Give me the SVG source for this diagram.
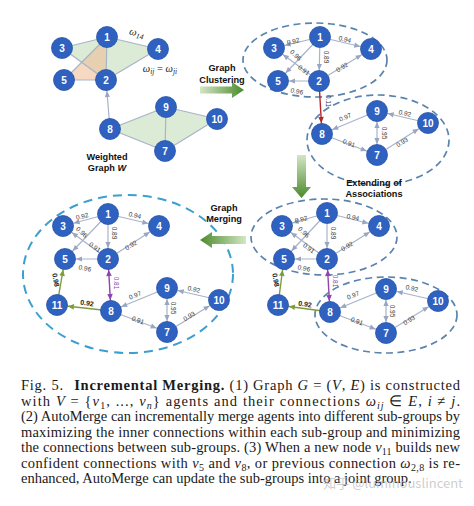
<svg xmlns="http://www.w3.org/2000/svg" width="474" height="506" viewBox="0 0 474 506">
<style>
.e{stroke:#a7b3cb;stroke-width:1.2;fill:none}
.er{stroke:#b3262a;stroke-width:1.4;fill:none}
.ep{stroke:#8e44ad;stroke-width:1.4;fill:none}
.eg{stroke:#7d9c3c;stroke-width:1.4;fill:none}
.n circle{fill:#2f61c0;stroke:#2854a8;stroke-width:0.8}
.n text{font-family:"Liberation Sans",Arial,sans-serif;font-weight:bold;font-size:10px;fill:#fff;text-anchor:middle;dominant-baseline:central}
.w{font-family:"Liberation Sans",Arial,sans-serif;font-size:6.5px;fill:#3a3a3a;text-anchor:middle;dominant-baseline:central}
.wb{font-family:"Liberation Sans",Arial,sans-serif;font-size:7px;font-weight:bold;fill:#222;text-anchor:middle;dominant-baseline:central}
.wp{font-family:"Liberation Sans",Arial,sans-serif;font-size:6.5px;fill:#8e44ad;text-anchor:middle;dominant-baseline:central}
.lbl{font-family:"Liberation Sans",Arial,sans-serif;font-size:9.2px;font-weight:bold;fill:#111;text-anchor:middle}
.el{fill:none;stroke:#5a84ae;stroke-width:1.7;stroke-dasharray:7 4.5}
.cap{font-family:"Liberation Serif","Times New Roman",serif;font-size:14.5px;fill:#1a1a1a}
.om{font-family:"Liberation Serif","Times New Roman",serif;font-style:italic;font-size:10.5px;fill:#222}
</style>
<defs>
<marker id="ag" viewBox="-20 -5 25 10" refX="0" refY="0" markerWidth="25" markerHeight="10" markerUnits="userSpaceOnUse" orient="auto-start-reverse"><path d="M-17,-2.6 L-11,0 L-17,2.6 z" fill="#98a6c2"/></marker>
<marker id="ar" viewBox="-20 -5 25 10" refX="0" refY="0" markerWidth="25" markerHeight="10" markerUnits="userSpaceOnUse" orient="auto-start-reverse"><path d="M-17,-2.8 L-11,0 L-17,2.8 z" fill="#b3262a"/></marker>
<marker id="ap" viewBox="-20 -5 25 10" refX="0" refY="0" markerWidth="25" markerHeight="10" markerUnits="userSpaceOnUse" orient="auto-start-reverse"><path d="M-17,-2.8 L-11,0 L-17,2.8 z" fill="#8e44ad"/></marker>
<marker id="agr" viewBox="-20 -5 25 10" refX="0" refY="0" markerWidth="25" markerHeight="10" markerUnits="userSpaceOnUse" orient="auto-start-reverse"><path d="M-17,-2.8 L-11,0 L-17,2.8 z" fill="#7d9c3c"/></marker>
<linearGradient id="gR" x1="0" y1="0" x2="1" y2="0"><stop offset="0" stop-color="#d3e6c4"/><stop offset="1" stop-color="#4b8a2c"/></linearGradient>
<linearGradient id="gL" x1="0" y1="0" x2="1" y2="0"><stop offset="0" stop-color="#4b8a2c"/><stop offset="1" stop-color="#d3e6c4"/></linearGradient>
<linearGradient id="gD" x1="0" y1="0" x2="0" y2="1"><stop offset="0" stop-color="#d3e6c4"/><stop offset="1" stop-color="#4b8a2c"/></linearGradient>
</defs>
<rect width="474" height="506" fill="#fff"/>

<!-- Panel 1 shading -->
<g id="p1-shading">
<polygon points="62,48 107,37 158,49 106,80" fill="#dcebd5"/>
<polygon points="110,129 166,107 217,119 165,151" fill="#dcebd5"/>
<polygon points="107,37 106,80 64,80" fill="#f0b98f" fill-opacity="0.55"/>
</g>

<!-- Dashed group ellipses -->
<g id="groups">
<ellipse cx="315" cy="60" rx="72" ry="37" class="el"/>
<ellipse cx="378" cy="140" rx="71" ry="45" class="el"/>
<ellipse cx="324" cy="237" rx="73" ry="38" class="el"/>
<ellipse cx="386" cy="315" rx="71" ry="38" class="el"/>
<ellipse cx="128" cy="274" rx="105" ry="79" fill="none" stroke="#3b9fcf" stroke-width="2" stroke-dasharray="9 6"/>
</g>

<!-- Connectors -->
<g id="connectors">
<!-- panel 1 -->
<line class="e" x1="62" y1="48" x2="107" y2="37"/>
<line class="e" x1="107" y1="37" x2="158" y2="49"/>
<line class="e" x1="107" y1="37" x2="106" y2="80"/>
<line class="e" x1="158" y1="49" x2="106" y2="80"/>
<line class="e" x1="62" y1="48" x2="106" y2="80"/>
<line class="e" x1="64" y1="80" x2="107" y2="37"/>
<line class="e" x1="64" y1="80" x2="106" y2="80"/>
<line class="e" x1="110" y1="129" x2="106" y2="80" marker-end="url(#ag)"/>
<line class="e" x1="110" y1="129" x2="166" y2="107"/>
<line class="e" x1="166" y1="107" x2="217" y2="119"/>
<line class="e" x1="166" y1="107" x2="165" y2="151"/>
<line class="e" x1="110" y1="129" x2="165" y2="151"/>
<line class="e" x1="165" y1="151" x2="217" y2="119"/>
<!-- panel 2 -->
<line class="e" x1="320" y1="37" x2="274" y2="48" marker-end="url(#ag)"/>
<line class="e" x1="320" y1="37" x2="371" y2="49" marker-end="url(#ag)"/>
<line class="e" x1="320" y1="37" x2="319" y2="81" marker-end="url(#ag)"/>
<line class="e" x1="320" y1="37" x2="278" y2="81" marker-end="url(#ag)"/>
<line class="e" x1="319" y1="81" x2="274" y2="48" marker-end="url(#ag)"/>
<line class="e" x1="319" y1="81" x2="371" y2="49" marker-end="url(#ag)"/>
<line class="e" x1="319" y1="81" x2="278" y2="81" marker-end="url(#ag)"/>
<line class="e" x1="377" y1="111" x2="322" y2="134" marker-end="url(#ag)"/>
<line class="e" x1="428" y1="123" x2="377" y2="111" marker-end="url(#ag)"/>
<line class="e" x1="377" y1="111" x2="377" y2="155" marker-start="url(#ag)" marker-end="url(#ag)"/>
<line class="e" x1="322" y1="134" x2="377" y2="155" marker-end="url(#ag)"/>
<line class="e" x1="377" y1="155" x2="428" y2="123" marker-end="url(#ag)"/>
<line class="er" x1="319" y1="81" x2="322" y2="134" marker-end="url(#ar)"/>
<!-- panel 3 -->
<line class="e" x1="327" y1="213" x2="282" y2="226" marker-end="url(#ag)"/>
<line class="e" x1="327" y1="213" x2="379" y2="226" marker-end="url(#ag)"/>
<line class="e" x1="327" y1="213" x2="327" y2="259" marker-end="url(#ag)"/>
<line class="e" x1="327" y1="213" x2="284" y2="259" marker-end="url(#ag)"/>
<line class="e" x1="327" y1="259" x2="282" y2="226" marker-end="url(#ag)"/>
<line class="e" x1="327" y1="259" x2="379" y2="226" marker-end="url(#ag)"/>
<line class="e" x1="327" y1="259" x2="284" y2="259" marker-end="url(#ag)"/>
<line class="e" x1="386" y1="289" x2="330" y2="312" marker-end="url(#ag)"/>
<line class="e" x1="438" y1="301" x2="386" y2="289" marker-end="url(#ag)"/>
<line class="e" x1="386" y1="289" x2="386" y2="333" marker-start="url(#ag)" marker-end="url(#ag)"/>
<line class="e" x1="330" y1="312" x2="386" y2="333" marker-end="url(#ag)"/>
<line class="e" x1="386" y1="333" x2="438" y2="301" marker-end="url(#ag)"/>
<line class="ep" x1="327" y1="259" x2="330" y2="312" marker-start="url(#ap)" marker-end="url(#ap)"/>
<line class="eg" x1="278" y1="305" x2="284" y2="259" marker-end="url(#agr)"/>
<line class="eg" x1="330" y1="312" x2="278" y2="305" marker-end="url(#agr)"/>
<!-- panel 4 -->
<line class="e" x1="108" y1="214" x2="63" y2="226" marker-end="url(#ag)"/>
<line class="e" x1="108" y1="214" x2="159" y2="226" marker-end="url(#ag)"/>
<line class="e" x1="108" y1="214" x2="108" y2="259" marker-end="url(#ag)"/>
<line class="e" x1="108" y1="214" x2="65" y2="259" marker-end="url(#ag)"/>
<line class="e" x1="108" y1="259" x2="63" y2="226" marker-end="url(#ag)"/>
<line class="e" x1="108" y1="259" x2="159" y2="226" marker-end="url(#ag)"/>
<line class="e" x1="108" y1="259" x2="65" y2="259" marker-end="url(#ag)"/>
<line class="e" x1="167" y1="288" x2="111" y2="311" marker-end="url(#ag)"/>
<line class="e" x1="219" y1="300" x2="167" y2="288" marker-end="url(#ag)"/>
<line class="e" x1="167" y1="288" x2="167" y2="332" marker-start="url(#ag)" marker-end="url(#ag)"/>
<line class="e" x1="111" y1="311" x2="167" y2="332" marker-end="url(#ag)"/>
<line class="e" x1="167" y1="332" x2="219" y2="300" marker-end="url(#ag)"/>
<line class="ep" x1="108" y1="259" x2="111" y2="311" marker-start="url(#ap)" marker-end="url(#ap)"/>
<line class="eg" x1="57" y1="305" x2="65" y2="259" marker-end="url(#agr)"/>
<line class="eg" x1="111" y1="311" x2="57" y2="305" marker-end="url(#agr)"/>
</g>

<!-- Edge weight labels -->
<g id="weights">
<text class="om" transform="translate(136,36) rotate(13)" text-anchor="middle">ω<tspan font-size="7.5" dy="2">14</tspan></text>
<text class="om" x="160" y="72" text-anchor="middle">ω<tspan font-size="7.5" dy="2">ij</tspan><tspan dy="-2" font-style="normal"> = </tspan>ω<tspan font-size="7.5" dy="2">ji</tspan></text>

<text class="w" transform="translate(293,41) rotate(-13)">0.92</text>
<text class="w" transform="translate(345,39) rotate(13)">0.94</text>
<text class="w" transform="translate(326,57) rotate(90)">0.89</text>
<text class="w" transform="translate(296,55) rotate(42)">0.96</text>
<text class="w" transform="translate(304,70) rotate(36)">0.91</text>
<text class="w" transform="translate(342,67) rotate(-31)">0.92</text>
<text class="w" transform="translate(297,91) rotate(12)">0.96</text>
<text class="w" transform="translate(328,101) rotate(90)" fill="#333">0.11</text>
<text class="w" transform="translate(345,117) rotate(-23)">0.97</text>
<text class="w" transform="translate(405,113) rotate(13)">0.92</text>
<text class="w" transform="translate(384,133) rotate(90)">0.95</text>
<text class="w" transform="translate(349,143) rotate(21)">0.91</text>
<text class="w" transform="translate(402,142) rotate(-32)">0.93</text>

<text class="w" transform="translate(301,219) rotate(-13)">0.92</text>
<text class="w" transform="translate(353,217) rotate(13)">0.94</text>
<text class="w" transform="translate(333,233) rotate(90)">0.89</text>
<text class="w" transform="translate(304,232) rotate(42)">0.96</text>
<text class="w" transform="translate(309,248) rotate(36)">0.91</text>
<text class="w" transform="translate(347,246) rotate(-31)">0.92</text>
<text class="w" transform="translate(304,268) rotate(12)">0.96</text>
<text class="wb" transform="translate(276,280) rotate(80)">0.98</text>
<text class="wp" transform="translate(335,281) rotate(90)">0.81</text>
<text class="wb" transform="translate(305,304) rotate(8)">0.92</text>
<text class="w" transform="translate(353,295) rotate(-22)">0.97</text>
<text class="w" transform="translate(412,288) rotate(13)">0.92</text>
<text class="w" transform="translate(392,311) rotate(90)">0.95</text>
<text class="w" transform="translate(357,321) rotate(20)">0.91</text>
<text class="w" transform="translate(409,320) rotate(-32)">0.93</text>

<text class="w" transform="translate(82,216) rotate(-13)">0.92</text>
<text class="w" transform="translate(135,215) rotate(13)">0.94</text>
<text class="w" transform="translate(114,233) rotate(90)">0.89</text>
<text class="w" transform="translate(82,232) rotate(42)">0.96</text>
<text class="w" transform="translate(95,247) rotate(36)">0.91</text>
<text class="w" transform="translate(131,245) rotate(-31)">0.92</text>
<text class="w" transform="translate(85,268) rotate(12)">0.96</text>
<text class="wb" transform="translate(56,280) rotate(80)">0.98</text>
<text class="wp" transform="translate(116,283) rotate(90)">0.81</text>
<text class="wb" transform="translate(87,303) rotate(8)">0.92</text>
<text class="w" transform="translate(135,295) rotate(-22)">0.97</text>
<text class="w" transform="translate(194,289) rotate(13)">0.92</text>
<text class="w" transform="translate(173,308) rotate(90)">0.95</text>
<text class="w" transform="translate(138,320) rotate(20)">0.91</text>
<text class="w" transform="translate(189,316) rotate(-32)">0.93</text>
</g>

<!-- Nodes panel 1 -->
<g id="p1-n1" class="n"><circle cx="107" cy="37" r="10.5"/><text x="107" y="37">1</text></g>
<g id="p1-n2" class="n"><circle cx="106" cy="80" r="10.5"/><text x="106" y="80">2</text></g>
<g id="p1-n3" class="n"><circle cx="62" cy="48" r="10.5"/><text x="62" y="48">3</text></g>
<g id="p1-n4" class="n"><circle cx="158" cy="49" r="10.5"/><text x="158" y="49">4</text></g>
<g id="p1-n5" class="n"><circle cx="64" cy="80" r="10.5"/><text x="64" y="80">5</text></g>
<g id="p1-n7" class="n"><circle cx="165" cy="151" r="10.5"/><text x="165" y="151">7</text></g>
<g id="p1-n8" class="n"><circle cx="110" cy="129" r="10.5"/><text x="110" y="129">8</text></g>
<g id="p1-n9" class="n"><circle cx="166" cy="107" r="10.5"/><text x="166" y="107">9</text></g>
<g id="p1-n10" class="n"><circle cx="217" cy="119" r="10.5"/><text x="217" y="119">10</text></g>

<!-- Nodes panel 2 -->
<g id="p2-n1" class="n"><circle cx="320" cy="37" r="10.5"/><text x="320" y="37">1</text></g>
<g id="p2-n2" class="n"><circle cx="319" cy="81" r="10.5"/><text x="319" y="81">2</text></g>
<g id="p2-n3" class="n"><circle cx="274" cy="48" r="10.5"/><text x="274" y="48">3</text></g>
<g id="p2-n4" class="n"><circle cx="371" cy="49" r="10.5"/><text x="371" y="49">4</text></g>
<g id="p2-n5" class="n"><circle cx="278" cy="81" r="10.5"/><text x="278" y="81">5</text></g>
<g id="p2-n7" class="n"><circle cx="377" cy="155" r="10.5"/><text x="377" y="155">7</text></g>
<g id="p2-n8" class="n"><circle cx="322" cy="134" r="10.5"/><text x="322" y="134">8</text></g>
<g id="p2-n9" class="n"><circle cx="377" cy="111" r="10.5"/><text x="377" y="111">9</text></g>
<g id="p2-n10" class="n"><circle cx="428" cy="123" r="10.5"/><text x="428" y="123">10</text></g>

<!-- Nodes panel 3 -->
<g id="p3-n1" class="n"><circle cx="327" cy="213" r="10.5"/><text x="327" y="213">1</text></g>
<g id="p3-n2" class="n"><circle cx="327" cy="259" r="10.5"/><text x="327" y="259">2</text></g>
<g id="p3-n3" class="n"><circle cx="282" cy="226" r="10.5"/><text x="282" y="226">3</text></g>
<g id="p3-n4" class="n"><circle cx="379" cy="226" r="10.5"/><text x="379" y="226">4</text></g>
<g id="p3-n5" class="n"><circle cx="284" cy="259" r="10.5"/><text x="284" y="259">5</text></g>
<g id="p3-n7" class="n"><circle cx="386" cy="333" r="10.5"/><text x="386" y="333">7</text></g>
<g id="p3-n8" class="n"><circle cx="330" cy="312" r="10.5"/><text x="330" y="312">8</text></g>
<g id="p3-n9" class="n"><circle cx="386" cy="289" r="10.5"/><text x="386" y="289">9</text></g>
<g id="p3-n10" class="n"><circle cx="438" cy="301" r="10.5"/><text x="438" y="301">10</text></g>
<g id="p3-n11" class="n"><circle cx="278" cy="305" r="10.5"/><text x="278" y="305">11</text></g>

<!-- Nodes panel 4 -->
<g id="p4-n1" class="n"><circle cx="108" cy="214" r="10.5"/><text x="108" y="214">1</text></g>
<g id="p4-n2" class="n"><circle cx="108" cy="259" r="10.5"/><text x="108" y="259">2</text></g>
<g id="p4-n3" class="n"><circle cx="63" cy="226" r="10.5"/><text x="63" y="226">3</text></g>
<g id="p4-n4" class="n"><circle cx="159" cy="226" r="10.5"/><text x="159" y="226">4</text></g>
<g id="p4-n5" class="n"><circle cx="65" cy="259" r="10.5"/><text x="65" y="259">5</text></g>
<g id="p4-n7" class="n"><circle cx="167" cy="332" r="10.5"/><text x="167" y="332">7</text></g>
<g id="p4-n8" class="n"><circle cx="111" cy="311" r="10.5"/><text x="111" y="311">8</text></g>
<g id="p4-n9" class="n"><circle cx="167" cy="288" r="10.5"/><text x="167" y="288">9</text></g>
<g id="p4-n10" class="n"><circle cx="219" cy="300" r="10.5"/><text x="219" y="300">10</text></g>
<g id="p4-n11" class="n"><circle cx="57" cy="305" r="10.5"/><text x="57" y="305">11</text></g>

<!-- Process arrows and labels -->
<g id="step-clustering">
<polygon points="200,86.5 232,86.5 232,82 244,90 232,98 232,93.5 200,93.5" fill="url(#gR)"/>
<text class="lbl" x="222" y="71">Graph</text>
<text class="lbl" x="222" y="83">Clustering</text>
</g>
<g id="step-extending">
<polygon points="297,155 306,155 306,187 311,187 301.5,198 292,187 297,187" fill="url(#gD)"/>
<text class="lbl" x="374" y="186">Extending of</text>
<text class="lbl" x="374" y="197">Associations</text>
</g>
<g id="step-merging">
<polygon points="246,236 212,236 212,232 200,240 212,248 212,244 246,244" fill="url(#gL)"/>
<text class="lbl" x="224" y="211">Graph</text>
<text class="lbl" x="224" y="222">Merging</text>
</g>
<g id="label-weighted">
<text class="lbl" x="107" y="160">Weighted</text>
<text class="lbl" x="107" y="171">Graph <tspan font-style="italic">W</tspan></text>
</g>

<!-- Caption -->
<g id="caption">
<text class="cap" x="21" y="390" textLength="439" lengthAdjust="spacing">Fig. 5. <tspan dx="6" font-weight="bold">Incremental Merging.</tspan> (1) Graph <tspan font-style="italic">G</tspan> = (<tspan font-style="italic">V</tspan>, <tspan font-style="italic">E</tspan>) is constructed</text>
<text class="cap" x="21" y="405.5" textLength="439" lengthAdjust="spacing">with <tspan font-style="italic">V</tspan> = {<tspan font-style="italic">v</tspan><tspan font-size="10" dy="3">1</tspan><tspan dy="-3">, ..., </tspan><tspan font-style="italic">v</tspan><tspan font-size="10" font-style="italic" dy="3">n</tspan><tspan dy="-3">} agents and their connections </tspan><tspan font-style="italic">ω</tspan><tspan font-size="10" font-style="italic" dy="3">ij</tspan><tspan dy="-3"> ∈ </tspan><tspan font-style="italic">E</tspan>, <tspan font-style="italic">i</tspan> ≠ <tspan font-style="italic">j</tspan>.</text>
<text class="cap" x="21" y="421" textLength="439" lengthAdjust="spacing">(2) AutoMerge can incrementally merge agents into different sub-groups by</text>
<text class="cap" x="21" y="436.5" textLength="439" lengthAdjust="spacing">maximizing the inner connections within each sub-group and minimizing</text>
<text class="cap" x="21" y="452" textLength="439" lengthAdjust="spacing">the connections between sub-groups. (3) When a new node <tspan font-style="italic">v</tspan><tspan font-size="10" dy="3">11</tspan><tspan dy="-3"> builds new</tspan></text>
<text class="cap" x="21" y="467.5" textLength="439" lengthAdjust="spacing">confident connections with <tspan font-style="italic">v</tspan><tspan font-size="10" dy="3">5</tspan><tspan dy="-3"> and </tspan><tspan font-style="italic">v</tspan><tspan font-size="10" dy="3">8</tspan><tspan dy="-3">, or previous connection </tspan><tspan font-style="italic">ω</tspan><tspan font-size="10" dy="3">2,8</tspan><tspan dy="-3"> is re-</tspan></text>
<text class="cap" x="21" y="483">enhanced, AutoMerge can update the sub-groups into a joint group.</text>
<text x="463" y="488" text-anchor="end" font-family="'Noto Sans CJK SC','Noto Sans',sans-serif" font-size="13" fill="#b8b8b8" fill-opacity="0.7">知乎 @luminouslincent</text>
</g>
</svg>
